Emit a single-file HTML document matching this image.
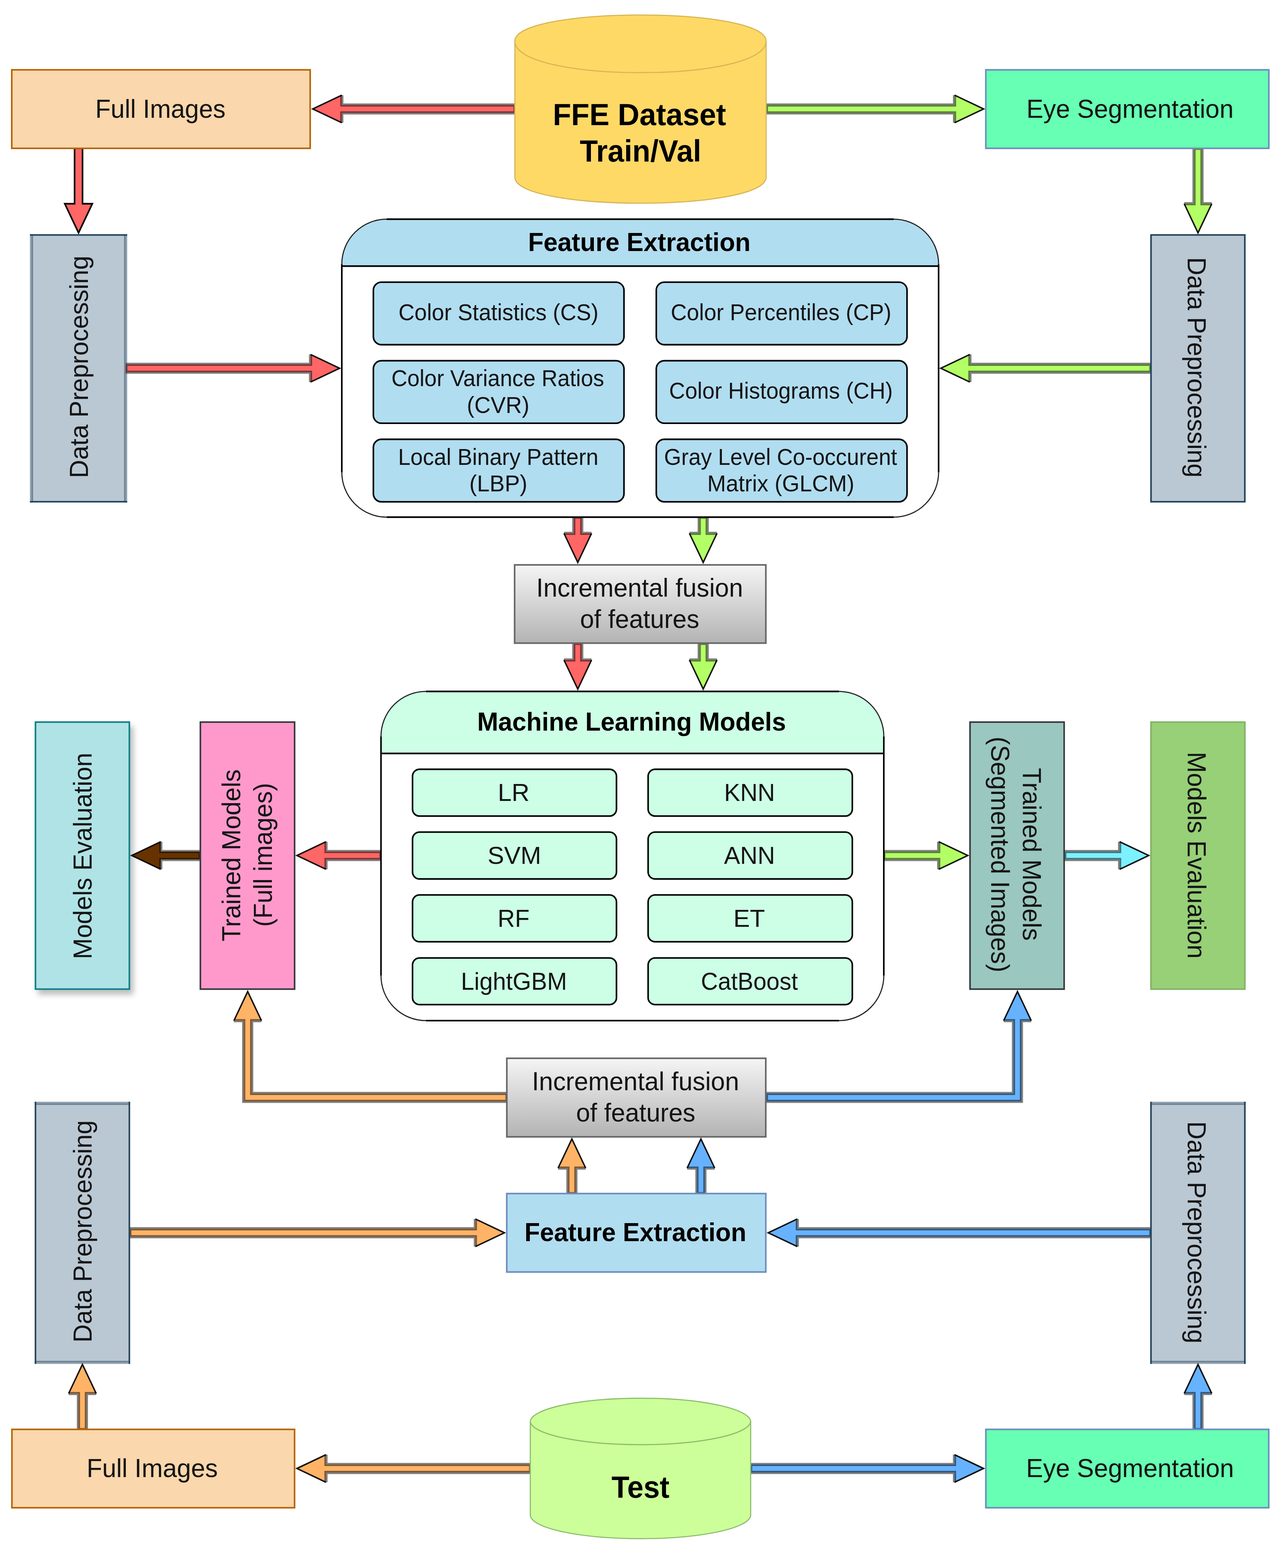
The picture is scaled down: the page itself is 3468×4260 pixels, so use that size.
<!DOCTYPE html>
<html lang="en">
<head>
<meta charset="utf-8">
<title>FFE pipeline diagram</title>
<style>
html,body{margin:0;padding:0;background:#ffffff;}
body{width:3468px;height:4260px;overflow:hidden;}
svg{display:block;font-family:'Liberation Sans', Arial, Helvetica, sans-serif;}
</style>
</head>
<body>
<svg width="3468" height="4260" viewBox="0 0 3468 4260">
<rect x="0" y="0" width="3468" height="4260" fill="#ffffff"/>
<defs>
<linearGradient id="gr" x1="0" y1="0" x2="0" y2="1"><stop offset="0" stop-color="#f5f5f5"/><stop offset="1" stop-color="#b3b3b3"/></linearGradient>
<filter id="sh" x="-20%" y="-10%" width="150%" height="125%"><feGaussianBlur in="SourceAlpha" stdDeviation="8"/><feOffset dx="8.5" dy="12.8"/><feComponentTransfer><feFuncA type="linear" slope="0.26"/></feComponentTransfer><feMerge><feMergeNode/><feMergeNode in="SourceGraphic"/></feMerge></filter>
</defs>
<g id="arrows">
<path d="M1400 285.2 L929 285.2 L929 258.5 L850 296 L929 333.5 L929 306.8 L1400 306.8Z" fill="#FF6666"/>
<path d="M929 258.5 L929 285.2 L1400 285.2 L1400 306.8 L929 306.8 L929 333.5" fill="none" stroke="#000" stroke-opacity="0.5" stroke-width="8.6" stroke-linejoin="miter"/>
<path d="M929 258.5 L850 296 L929 333.5" fill="none" stroke="#000" stroke-opacity="0.92" stroke-width="4" stroke-miterlimit="10"/>
<path d="M2083 306.8 L2594.3 306.8 L2594.3 333.5 L2673.3 296 L2594.3 258.5 L2594.3 285.2 L2083 285.2Z" fill="#B3FF66"/>
<path d="M2594.3 333.5 L2594.3 306.8 L2083 306.8 L2083 285.2 L2594.3 285.2 L2594.3 258.5" fill="none" stroke="#000" stroke-opacity="0.5" stroke-width="8.6" stroke-linejoin="miter"/>
<path d="M2594.3 333.5 L2673.3 296 L2594.3 258.5" fill="none" stroke="#000" stroke-opacity="0.92" stroke-width="4" stroke-miterlimit="10"/>
<path d="M202.7 403 L202.7 553.5 L176 553.5 L213.5 632.5 L251 553.5 L224.3 553.5 L224.3 403Z" fill="#FF6666" stroke="#000" stroke-width="4.3" stroke-miterlimit="10"/>
<path d="M3245.2 403 L3245.2 553.5 L3218.5 553.5 L3256 632.5 L3293.5 553.5 L3266.8 553.5 L3266.8 403Z" fill="#B3FF66"/>
<path d="M3218.5 553.5 L3245.2 553.5 L3245.2 403 L3266.8 403 L3266.8 553.5 L3293.5 553.5" fill="none" stroke="#000" stroke-opacity="0.5" stroke-width="8.6" stroke-linejoin="miter"/>
<path d="M3218.5 553.5 L3256 632.5 L3293.5 553.5" fill="none" stroke="#000" stroke-opacity="0.92" stroke-width="4" stroke-miterlimit="10"/>
<path d="M342 1011.3 L844 1011.3 L844 1038 L923 1000.5 L844 963 L844 989.7 L342 989.7Z" fill="#FF6666"/>
<path d="M844 1038 L844 1011.3 L342 1011.3 L342 989.7 L844 989.7 L844 963" fill="none" stroke="#000" stroke-opacity="0.5" stroke-width="8.6" stroke-linejoin="miter"/>
<path d="M844 1038 L923 1000.5 L844 963" fill="none" stroke="#000" stroke-opacity="0.92" stroke-width="4" stroke-miterlimit="10"/>
<path d="M3128 989.7 L2636 989.7 L2636 963 L2557 1000.5 L2636 1038 L2636 1011.3 L3128 1011.3Z" fill="#B3FF66"/>
<path d="M2636 963 L2636 989.7 L3128 989.7 L3128 1011.3 L2636 1011.3 L2636 1038" fill="none" stroke="#000" stroke-opacity="0.5" stroke-width="8.6" stroke-linejoin="miter"/>
<path d="M2636 963 L2557 1000.5 L2636 1038" fill="none" stroke="#000" stroke-opacity="0.92" stroke-width="4" stroke-miterlimit="10"/>
<path d="M1559.5 1405 L1559.5 1449 L1532.8 1449 L1570.3 1528 L1607.8 1449 L1581.1 1449 L1581.1 1405Z" fill="#FF6666"/>
<path d="M1532.8 1449 L1559.5 1449 L1559.5 1405 L1581.1 1405 L1581.1 1449 L1607.8 1449" fill="none" stroke="#000" stroke-opacity="0.5" stroke-width="8.6" stroke-linejoin="miter"/>
<path d="M1532.8 1449 L1570.3 1528 L1607.8 1449" fill="none" stroke="#000" stroke-opacity="0.92" stroke-width="4" stroke-miterlimit="10"/>
<path d="M1900.4 1405 L1900.4 1449 L1873.7 1449 L1911.2 1528 L1948.7 1449 L1922 1449 L1922 1405Z" fill="#B3FF66"/>
<path d="M1873.7 1449 L1900.4 1449 L1900.4 1405 L1922 1405 L1922 1449 L1948.7 1449" fill="none" stroke="#000" stroke-opacity="0.5" stroke-width="8.6" stroke-linejoin="miter"/>
<path d="M1873.7 1449 L1911.2 1528 L1948.7 1449" fill="none" stroke="#000" stroke-opacity="0.92" stroke-width="4" stroke-miterlimit="10"/>
<path d="M1559.5 1748 L1559.5 1793 L1532.8 1793 L1570.3 1872 L1607.8 1793 L1581.1 1793 L1581.1 1748Z" fill="#FF6666"/>
<path d="M1532.8 1793 L1559.5 1793 L1559.5 1748 L1581.1 1748 L1581.1 1793 L1607.8 1793" fill="none" stroke="#000" stroke-opacity="0.5" stroke-width="8.6" stroke-linejoin="miter"/>
<path d="M1532.8 1793 L1570.3 1872 L1607.8 1793" fill="none" stroke="#000" stroke-opacity="0.92" stroke-width="4" stroke-miterlimit="10"/>
<path d="M1900.4 1748 L1900.4 1793 L1873.7 1793 L1911.2 1872 L1948.7 1793 L1922 1793 L1922 1748Z" fill="#B3FF66"/>
<path d="M1873.7 1793 L1900.4 1793 L1900.4 1748 L1922 1748 L1922 1793 L1948.7 1793" fill="none" stroke="#000" stroke-opacity="0.5" stroke-width="8.6" stroke-linejoin="miter"/>
<path d="M1873.7 1793 L1911.2 1872 L1948.7 1793" fill="none" stroke="#000" stroke-opacity="0.92" stroke-width="4" stroke-miterlimit="10"/>
<path d="M1035.5 2313.5 L886 2313.5 L886 2286.8 L807 2324.3 L886 2361.8 L886 2335.1 L1035.5 2335.1Z" fill="#FF6666"/>
<path d="M886 2286.8 L886 2313.5 L1035.5 2313.5 L1035.5 2335.1 L886 2335.1 L886 2361.8" fill="none" stroke="#000" stroke-opacity="0.5" stroke-width="8.6" stroke-linejoin="miter"/>
<path d="M886 2286.8 L807 2324.3 L886 2361.8" fill="none" stroke="#000" stroke-opacity="0.92" stroke-width="4" stroke-miterlimit="10"/>
<path d="M544 2313.5 L437 2313.5 L437 2286.8 L358 2324.3 L437 2361.8 L437 2335.1 L544 2335.1Z" fill="#663300"/>
<path d="M437 2286.8 L437 2313.5 L544 2313.5 L544 2335.1 L437 2335.1 L437 2361.8" fill="none" stroke="#000" stroke-opacity="0.5" stroke-width="8.6" stroke-linejoin="miter"/>
<path d="M437 2286.8 L358 2324.3 L437 2361.8" fill="none" stroke="#000" stroke-opacity="0.92" stroke-width="4" stroke-miterlimit="10"/>
<path d="M2402 2335.1 L2551.3 2335.1 L2551.3 2361.8 L2630.3 2324.3 L2551.3 2286.8 L2551.3 2313.5 L2402 2313.5Z" fill="#B3FF66"/>
<path d="M2551.3 2361.8 L2551.3 2335.1 L2402 2335.1 L2402 2313.5 L2551.3 2313.5 L2551.3 2286.8" fill="none" stroke="#000" stroke-opacity="0.5" stroke-width="8.6" stroke-linejoin="miter"/>
<path d="M2551.3 2361.8 L2630.3 2324.3 L2551.3 2286.8" fill="none" stroke="#000" stroke-opacity="0.92" stroke-width="4" stroke-miterlimit="10"/>
<path d="M2894 2335.1 L3043 2335.1 L3043 2361.8 L3122 2324.3 L3043 2286.8 L3043 2313.5 L2894 2313.5Z" fill="#7DF1FF"/>
<path d="M3043 2361.8 L3043 2335.1 L2894 2335.1 L2894 2313.5 L3043 2313.5 L3043 2286.8" fill="none" stroke="#000" stroke-opacity="0.5" stroke-width="8.6" stroke-linejoin="miter"/>
<path d="M3043 2361.8 L3122 2324.3 L3043 2286.8" fill="none" stroke="#000" stroke-opacity="0.92" stroke-width="4" stroke-miterlimit="10"/>
<path d="M1378 2970.7 L684 2970.7 L684 2773 L710.7 2773 L673.2 2694 L635.7 2773 L662.4 2773 L662.4 2992.3 L1378 2992.3Z" fill="#FFB366"/>
<path d="M710.7 2773 L684 2773 L684 2970.7 L1378 2970.7 L1378 2992.3 L662.4 2992.3 L662.4 2773 L635.7 2773" fill="none" stroke="#000" stroke-opacity="0.5" stroke-width="8.6" stroke-linejoin="miter"/>
<path d="M710.7 2773 L673.2 2694 L635.7 2773" fill="none" stroke="#000" stroke-opacity="0.92" stroke-width="4" stroke-miterlimit="10"/>
<path d="M2083 2992.3 L2776.1 2992.3 L2776.1 2773 L2802.8 2773 L2765.3 2694 L2727.8 2773 L2754.5 2773 L2754.5 2970.7 L2083 2970.7Z" fill="#66B2FF"/>
<path d="M2802.8 2773 L2776.1 2773 L2776.1 2992.3 L2083 2992.3 L2083 2970.7 L2754.5 2970.7 L2754.5 2773 L2727.8 2773" fill="none" stroke="#000" stroke-opacity="0.5" stroke-width="8.6" stroke-linejoin="miter"/>
<path d="M2802.8 2773 L2765.3 2694 L2727.8 2773" fill="none" stroke="#000" stroke-opacity="0.92" stroke-width="4" stroke-miterlimit="10"/>
<path d="M1565.1 3243 L1565.1 3173.5 L1591.8 3173.5 L1554.3 3094.5 L1516.8 3173.5 L1543.5 3173.5 L1543.5 3243Z" fill="#FFB366"/>
<path d="M1591.8 3173.5 L1565.1 3173.5 L1565.1 3243 L1543.5 3243 L1543.5 3173.5 L1516.8 3173.5" fill="none" stroke="#000" stroke-opacity="0.5" stroke-width="8.6" stroke-linejoin="miter"/>
<path d="M1591.8 3173.5 L1554.3 3094.5 L1516.8 3173.5" fill="none" stroke="#000" stroke-opacity="0.92" stroke-width="4" stroke-miterlimit="10"/>
<path d="M1915.8 3243 L1915.8 3173.5 L1942.5 3173.5 L1905 3094.5 L1867.5 3173.5 L1894.2 3173.5 L1894.2 3243Z" fill="#66B2FF"/>
<path d="M1942.5 3173.5 L1915.8 3173.5 L1915.8 3243 L1894.2 3243 L1894.2 3173.5 L1867.5 3173.5" fill="none" stroke="#000" stroke-opacity="0.5" stroke-width="8.6" stroke-linejoin="miter"/>
<path d="M1942.5 3173.5 L1905 3094.5 L1867.5 3173.5" fill="none" stroke="#000" stroke-opacity="0.92" stroke-width="4" stroke-miterlimit="10"/>
<path d="M353 3360 L1292 3360 L1292 3386.7 L1371 3349.2 L1292 3311.7 L1292 3338.4 L353 3338.4Z" fill="#FFB366"/>
<path d="M1292 3386.7 L1292 3360 L353 3360 L353 3338.4 L1292 3338.4 L1292 3311.7" fill="none" stroke="#000" stroke-opacity="0.5" stroke-width="8.6" stroke-linejoin="miter"/>
<path d="M1292 3386.7 L1371 3349.2 L1292 3311.7" fill="none" stroke="#000" stroke-opacity="0.92" stroke-width="4" stroke-miterlimit="10"/>
<path d="M3128 3338.4 L2167 3338.4 L2167 3311.7 L2088 3349.2 L2167 3386.7 L2167 3360 L3128 3360Z" fill="#66B2FF"/>
<path d="M2167 3311.7 L2167 3338.4 L3128 3338.4 L3128 3360 L2167 3360 L2167 3386.7" fill="none" stroke="#000" stroke-opacity="0.5" stroke-width="8.6" stroke-linejoin="miter"/>
<path d="M2167 3311.7 L2088 3349.2 L2167 3386.7" fill="none" stroke="#000" stroke-opacity="0.92" stroke-width="4" stroke-miterlimit="10"/>
<path d="M234.8 3884 L234.8 3786 L261.5 3786 L224 3707 L186.5 3786 L213.2 3786 L213.2 3884Z" fill="#FFB366"/>
<path d="M261.5 3786 L234.8 3786 L234.8 3884 L213.2 3884 L213.2 3786 L186.5 3786" fill="none" stroke="#000" stroke-opacity="0.5" stroke-width="8.6" stroke-linejoin="miter"/>
<path d="M261.5 3786 L224 3707 L186.5 3786" fill="none" stroke="#000" stroke-opacity="0.92" stroke-width="4" stroke-miterlimit="10"/>
<path d="M3266.8 3884 L3266.8 3786 L3293.5 3786 L3256 3707 L3218.5 3786 L3245.2 3786 L3245.2 3884Z" fill="#66B2FF"/>
<path d="M3293.5 3786 L3266.8 3786 L3266.8 3884 L3245.2 3884 L3245.2 3786 L3218.5 3786" fill="none" stroke="#000" stroke-opacity="0.5" stroke-width="8.6" stroke-linejoin="miter"/>
<path d="M3293.5 3786 L3256 3707 L3218.5 3786" fill="none" stroke="#000" stroke-opacity="0.92" stroke-width="4" stroke-miterlimit="10"/>
<path d="M1442 3978.8 L886 3978.8 L886 3952.1 L807 3989.6 L886 4027.1 L886 4000.4 L1442 4000.4Z" fill="#FFB366"/>
<path d="M886 3952.1 L886 3978.8 L1442 3978.8 L1442 4000.4 L886 4000.4 L886 4027.1" fill="none" stroke="#000" stroke-opacity="0.5" stroke-width="8.6" stroke-linejoin="miter"/>
<path d="M886 3952.1 L807 3989.6 L886 4027.1" fill="none" stroke="#000" stroke-opacity="0.92" stroke-width="4" stroke-miterlimit="10"/>
<path d="M2040 4000.4 L2594.2 4000.4 L2594.2 4027.1 L2673.2 3989.6 L2594.2 3952.1 L2594.2 3978.8 L2040 3978.8Z" fill="#66B2FF"/>
<path d="M2594.2 4027.1 L2594.2 4000.4 L2040 4000.4 L2040 3978.8 L2594.2 3978.8 L2594.2 3952.1" fill="none" stroke="#000" stroke-opacity="0.5" stroke-width="8.6" stroke-linejoin="miter"/>
<path d="M2594.2 4027.1 L2673.2 3989.6 L2594.2 3952.1" fill="none" stroke="#000" stroke-opacity="0.92" stroke-width="4" stroke-miterlimit="10"/>
</g>
<g id="shapes">
<rect x="32" y="189.7" width="811" height="213.3" fill="#FAD7AC" stroke="#B46504" stroke-width="4.3"/>
<path d="M1399.3 111.8 C1399.3 17.1 2082.2 17.1 2082.2 111.8 L2082.2 481 C2082.2 575.7 1399.3 575.7 1399.3 481 Z" fill="#FFD966" stroke="#D6B656" stroke-width="3"/>
<path d="M1399.3 111.8 C1399.3 225.8 2082.2 225.8 2082.2 111.8" fill="none" stroke="#D6B656" stroke-width="3"/>
<rect x="2679.3" y="189.7" width="769.2" height="213.3" fill="#66FFB3" stroke="#6C8EBF" stroke-width="4.3"/>
<rect x="85.7" y="638.3" width="255.7" height="724.9" fill="#BAC8D3"/>
<path d="M85.7 636.1 V1365.4 M341.4 636.1 V1365.4" fill="none" stroke="#23445D" stroke-opacity="0.5" stroke-width="8.6"/>
<path d="M81.4 638.3 H345.7 M81.4 1363.2 H345.7" fill="none" stroke="#23445D" stroke-width="4.3"/>
<rect x="3128.3" y="638.3" width="255" height="724.9" fill="#BAC8D3" stroke="#23445D" stroke-width="4.3"/>
<rect x="929" y="595.5" width="1622" height="809.5" rx="122" fill="#ffffff"/>
<path d="M929 723 L929 717.5 A122 122 0 0 1 1051 595.5 L2429 595.5 A122 122 0 0 1 2551 717.5 L2551 723 Z" fill="#B1DDF0"/>
<path d="M1051 595.5 L2429 595.5 M2551 717.5 L2551 1283 M2429 1405 L1051 1405 M929 1283 L929 717.5 M929 723 L2551 723" fill="none" stroke="#000" stroke-width="4.3"/>
<path d="M929 717.5 A122 122 0 0 1 1051 595.5 M2429 595.5 A122 122 0 0 1 2551 717.5 M2551 1283 A122 122 0 0 1 2429 1405 M1051 1405 A122 122 0 0 1 929 1283" fill="none" stroke="#222" stroke-width="3"/>
<rect x="1014.8" y="766.6" width="681.1" height="169.9" rx="22" fill="#B1DDF0" stroke="#000" stroke-width="4.3"/>
<rect x="1783.7" y="766.6" width="681.5" height="169.9" rx="22" fill="#B1DDF0" stroke="#000" stroke-width="4.3"/>
<rect x="1014.8" y="980" width="681.1" height="169.9" rx="22" fill="#B1DDF0" stroke="#000" stroke-width="4.3"/>
<rect x="1783.7" y="980" width="681.5" height="169.9" rx="22" fill="#B1DDF0" stroke="#000" stroke-width="4.3"/>
<rect x="1014.8" y="1193.5" width="681.1" height="169.8" rx="22" fill="#B1DDF0" stroke="#000" stroke-width="4.3"/>
<rect x="1783.7" y="1193.5" width="681.5" height="169.8" rx="22" fill="#B1DDF0" stroke="#000" stroke-width="4.3"/>
<rect x="1398.7" y="1534.7" width="682.8" height="212.6" fill="url(#gr)" stroke="#666666" stroke-width="4.3"/>
<rect x="1035.5" y="1878.5" width="1366.6" height="894.3" rx="122" fill="#ffffff"/>
<path d="M1035.5 2047 L1035.5 2000.5 A122 122 0 0 1 1157.5 1878.5 L2280.1 1878.5 A122 122 0 0 1 2402.1 2000.5 L2402.1 2047 Z" fill="#CCFFE6"/>
<path d="M1157.5 1878.5 L2280.1 1878.5 M2402.1 2000.5 L2402.1 2650.8 M2280.1 2772.8 L1157.5 2772.8 M1035.5 2650.8 L1035.5 2000.5 M1035.5 2047 L2402.1 2047" fill="none" stroke="#000" stroke-width="4.3"/>
<path d="M1035.5 2000.5 A122 122 0 0 1 1157.5 1878.5 M2280.1 1878.5 A122 122 0 0 1 2402.1 2000.5 M2402.1 2650.8 A122 122 0 0 1 2280.1 2772.8 M1157.5 2772.8 A122 122 0 0 1 1035.5 2650.8" fill="none" stroke="#222" stroke-width="3"/>
<rect x="1121.2" y="2090" width="554.3" height="127.2" rx="19" fill="#CCFFE6" stroke="#000" stroke-width="4.3"/>
<rect x="1761.5" y="2090" width="555" height="127.2" rx="19" fill="#CCFFE6" stroke="#000" stroke-width="4.3"/>
<rect x="1121.2" y="2260.7" width="554.3" height="127.3" rx="19" fill="#CCFFE6" stroke="#000" stroke-width="4.3"/>
<rect x="1761.5" y="2260.7" width="555" height="127.3" rx="19" fill="#CCFFE6" stroke="#000" stroke-width="4.3"/>
<rect x="1121.2" y="2431.4" width="554.3" height="127.2" rx="19" fill="#CCFFE6" stroke="#000" stroke-width="4.3"/>
<rect x="1761.5" y="2431.4" width="555" height="127.2" rx="19" fill="#CCFFE6" stroke="#000" stroke-width="4.3"/>
<rect x="1121.2" y="2602.6" width="554.3" height="126.8" rx="19" fill="#CCFFE6" stroke="#000" stroke-width="4.3"/>
<rect x="1761.5" y="2602.6" width="555" height="126.8" rx="19" fill="#CCFFE6" stroke="#000" stroke-width="4.3"/>
<rect x="96.4" y="1961.8" width="255.2" height="725.5" fill="#B0E3E6" stroke="#0E8088" stroke-width="4.3" filter="url(#sh)"/>
<rect x="544.6" y="1961.8" width="256.1" height="725.5" fill="#FF99CC" stroke="#36393d" stroke-width="4.3"/>
<rect x="2636.4" y="1961.8" width="255.8" height="725.5" fill="#9AC7BF" stroke="#36393d" stroke-width="4.3"/>
<rect x="3128.2" y="1961.8" width="255.2" height="725.5" fill="#97D077" stroke="#82B366" stroke-width="4.3"/>
<rect x="1377.5" y="2875.2" width="703.8" height="213.4" fill="url(#gr)" stroke="#666666" stroke-width="4.3"/>
<rect x="1377.3" y="3242.7" width="704.1" height="213.1" fill="#B1DDF0" stroke="#6C8EBF" stroke-width="4.3"/>
<rect x="96.4" y="2997.6" width="255.2" height="703.6" fill="#BAC8D3"/>
<path d="M94.2 2997.6 H353.8 M94.2 3701.2 H353.8" fill="none" stroke="#23445D" stroke-opacity="0.5" stroke-width="8.6"/>
<path d="M96.4 2993.3 V3705.5 M351.6 2993.3 V3705.5" fill="none" stroke="#23445D" stroke-width="4.3"/>
<rect x="3128.2" y="2997.6" width="255.2" height="703.6" fill="#BAC8D3"/>
<path d="M3126 2997.6 H3385.6 M3126 3701.2 H3385.6" fill="none" stroke="#23445D" stroke-opacity="0.5" stroke-width="8.6"/>
<path d="M3128.2 2993.3 V3705.5 M3383.4 2993.3 V3705.5" fill="none" stroke="#23445D" stroke-width="4.3"/>
<rect x="32.4" y="3883.4" width="768.2" height="212.9" fill="#FAD7AC" stroke="#B46504" stroke-width="4.3"/>
<path d="M1441.3 3861.8 A299.5 64.3 0 0 1 2040.2 3861.8 L2040.2 4117.2 A299.5 64.3 0 0 1 1441.3 4117.2 Z" fill="#CCFF99" stroke="#8CBB6A" stroke-width="3"/>
<path d="M2040.2 3861.8 A299.5 64.3 0 0 1 1441.3 3861.8" fill="none" stroke="#8CBB6A" stroke-width="3"/>
<rect x="2679.4" y="3883.4" width="768.9" height="212.9" fill="#66FFB3" stroke="#6C8EBF" stroke-width="4.3"/>
</g>
<g id="labels" fill="#141414" text-anchor="middle">
<text id="t1" transform="translate(436 319.7) scale(1.0029 1.04)" font-size="68.3">Full Images</text>
<text id="t2a" transform="translate(1738 339.9) scale(1.0061 1.04)" font-size="81" font-weight="bold" fill="#000">FFE Dataset</text>
<text id="t2b" transform="translate(1740.8 438.7) scale(0.9908 1.04)" font-size="81" font-weight="bold" fill="#000">Train/Val</text>
<text id="t3" transform="translate(3071.2 319.7) scale(1.0091 1.04)" font-size="68.3">Eye Segmentation</text>
<text id="t4" transform="translate(239.2 996.8) rotate(-90) scale(1.0075 1.04)" font-size="68.3">Data Preprocessing</text>
<text id="t5" transform="translate(3227.8 998) rotate(90) scale(0.9983 1.04)" font-size="68.3">Data Preprocessing</text>
<text id="t6" transform="translate(1737.5 682.3) scale(1.0085 1.04)" font-size="68.3" font-weight="bold" fill="#000">Feature Extraction</text>
<text id="t7" transform="translate(1354.8 869.7) scale(1.0121 1.04)" font-size="59.7">Color Statistics (CS)</text>
<text id="t8" transform="translate(2122.8 869.7) scale(1.0099 1.04)" font-size="59.7">Color Percentiles (CP)</text>
<text id="t9a" transform="translate(1352.8 1048.7) scale(1.0035 1.04)" font-size="59.7">Color Variance Ratios</text>
<text id="t9b" transform="translate(1353.8 1121.7) scale(1.0253 1.04)" font-size="59.7">(CVR)</text>
<text id="t10" transform="translate(2122.5 1083.4) scale(1.0071 1.04)" font-size="59.7">Color Histograms (CH)</text>
<text id="t11a" transform="translate(1354.2 1262.7) scale(1.0132 1.04)" font-size="59.7">Local Binary Pattern</text>
<text id="t11b" transform="translate(1354.5 1335.2) scale(1.0345 1.04)" font-size="59.7">(LBP)</text>
<text id="t12a" transform="translate(2121.5 1262.7) scale(1.0048 1.04)" font-size="59.7">Gray Level Co-occurent</text>
<text id="t12b" transform="translate(2122.2 1335.2) scale(1.0220 1.04)" font-size="59.7">Matrix (GLCM)</text>
<text id="t13a" transform="translate(1738.5 1620.8) scale(1.0070 1.04)" font-size="68.3">Incremental fusion</text>
<text id="t13b" transform="translate(1738.5 1706.3) scale(1.0044 1.04)" font-size="68.3">of features</text>
<text id="t14" transform="translate(1716.5 1984.7) scale(1.0052 1.04)" font-size="68.3" font-weight="bold" fill="#000">Machine Learning Models</text>
<text id="t15" transform="translate(1396 2176.1) scale(1.0500 1.04)" font-size="64">LR</text>
<text id="t16" transform="translate(2037.2 2176.1) scale(1.0240 1.04)" font-size="64">KNN</text>
<text id="t17" transform="translate(1398 2346.8) scale(1.0500 1.04)" font-size="64">SVM</text>
<text id="t18" transform="translate(2037 2346.8) scale(1.0250 1.04)" font-size="64">ANN</text>
<text id="t19" transform="translate(1395.8 2518) scale(1.0158 1.04)" font-size="64">RF</text>
<text id="t20" transform="translate(2036.2 2518) scale(1.0500 1.04)" font-size="64">ET</text>
<text id="t21" transform="translate(1396.8 2688.7) scale(1.0130 1.04)" font-size="64">LightGBM</text>
<text id="t22" transform="translate(2036.8 2688.7) scale(1.0008 1.04)" font-size="64">CatBoost</text>
<text id="t23" transform="translate(248.8 2325.5) rotate(-90) scale(1.0054 1.04)" font-size="68.3">Models Evaluation</text>
<text id="t24a" transform="translate(653.1 2323.8) rotate(-90) scale(0.9987 1.04)" font-size="68.3">Trained Models</text>
<text id="t24b" transform="translate(739.2 2322.5) rotate(-90) scale(0.9916 1.04)" font-size="68.3">(Full images)</text>
<text id="t25a" transform="translate(2780 2321) rotate(90) scale(1.0026 1.04)" font-size="68.3">Trained Models</text>
<text id="t25b" transform="translate(2693.8 2321.5) rotate(90) scale(1.0044 1.04)" font-size="68.3">(Segmented Images)</text>
<text id="t26" transform="translate(3227.8 2323.5) rotate(90) scale(1.0073 1.04)" font-size="68.3">Models Evaluation</text>
<text id="t27a" transform="translate(1727.2 2961.6) scale(1.0092 1.04)" font-size="68.3">Incremental fusion</text>
<text id="t27b" transform="translate(1727.8 3046.6) scale(1.0050 1.04)" font-size="68.3">of features</text>
<text id="t28" transform="translate(1727 3372.3) scale(1.0057 1.04)" font-size="68.3" font-weight="bold" fill="#000">Feature Extraction</text>
<text id="t29" transform="translate(248.8 3345.5) rotate(-90) scale(1.0072 1.04)" font-size="68.3">Data Preprocessing</text>
<text id="t30" transform="translate(3227.8 3348.2) rotate(90) scale(1.0067 1.04)" font-size="68.3">Data Preprocessing</text>
<text id="t31" transform="translate(413.8 4012.8) scale(1.0104 1.04)" font-size="68.3">Full Images</text>
<text id="t32" transform="translate(1740.8 4069) scale(0.9811 1.04)" font-size="81" font-weight="bold" fill="#000">Test</text>
<text id="t33" transform="translate(3071.2 4012.8) scale(1.0120 1.04)" font-size="68.3">Eye Segmentation</text>
</g>
</svg>
</body>
</html>
